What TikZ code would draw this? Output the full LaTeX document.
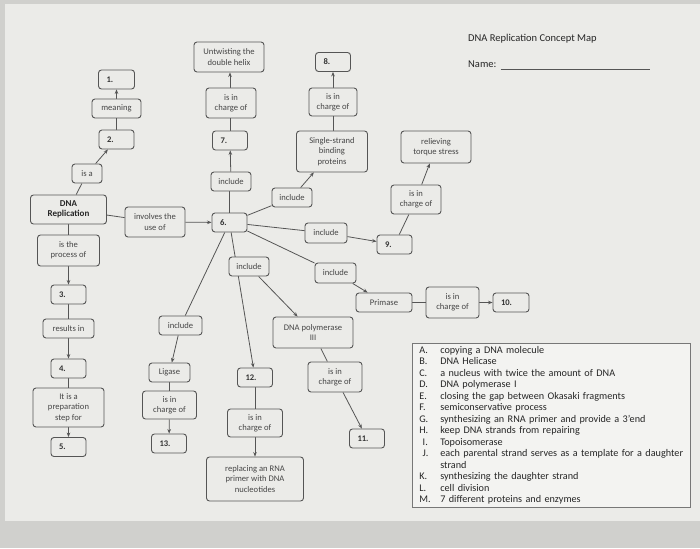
\documentclass[tikz,border=0pt]{standalone}
\usepackage{fontspec}
\setmainfont{Carlito}
\usetikzlibrary{arrows.meta,backgrounds}
\definecolor{pagec}{RGB}{235,235,232}
\definecolor{outc}{RGB}{208,208,205}
\definecolor{boxc}{RGB}{85,85,85}
\definecolor{txtc}{RGB}{70,70,70}
\newcommand{\nfont}{\fontsize{8.6}{10.3}\selectfont}
\newcommand{\lgitem}[2]{\makebox[21pt][l]{#1}#2\\}
\begin{document}
\begin{tikzpicture}[x=1pt,y=-1pt,
  box/.style={draw=boxc, line width=0.9pt, rounded corners=3pt, fill=pagec, text=txtc, font=\nfont, align=center, inner sep=1pt},
  numbox/.style={box, font=\nfont\bfseries, text=black!80, align=left, inner xsep=8pt, text width=#1, minimum height=19pt},
  numbox/.default=19pt,
  ln/.style={draw=boxc, line width=0.8pt},
  arr/.style={ln, -{Stealth[length=4.5pt,width=3.6pt]}},
]
\useasboundingbox (0,0) rectangle (700,548);
% left column
\node[numbox=20pt] (n1) at (116.5,79.5) {1.};
\node[box, minimum width=49pt, minimum height=19pt] (mean) at (116.5,108.5) {meaning};
\node[numbox] (n2) at (116.5,139.5) {2.};
\node[box, minimum width=30pt, minimum height=19pt] (isa) at (87,173.5) {is a};
\node[box, minimum width=76pt, minimum height=29pt, font=\fontsize{9}{10.5}\selectfont\bfseries, text=black!85] (dna) at (68.5,209.5) {DNA\\Replication};
\node[box, minimum width=60pt, minimum height=30pt] (inv) at (155,222) {involves the\\use of};
\node[box, minimum width=62pt, minimum height=31pt] (proc) at (68.5,250.5) {is the\\process of};
\node[numbox] (n3) at (68.5,294.5) {3.};
\node[box, minimum width=51pt, minimum height=19pt] (res) at (68.5,328.5) {results in};
\node[numbox] (n4) at (68.5,368.5) {4.};
\node[box, minimum width=71pt, minimum height=39pt] (prep) at (68.5,407.5) {It is a\\preparation\\step for};
\node[numbox] (n5) at (68.5,447) {5.};
% centre column
\node[box, minimum width=70pt, minimum height=30pt] (untw) at (229,57) {Untwisting the\\double helix};
\node[box, minimum width=50pt, minimum height=30pt] (ic1) at (231,103) {is in\\charge of};
\node[numbox] (n7) at (230,140.5) {7.};
\node[box, minimum width=40pt, minimum height=19pt] (inc7) at (231,181.5) {include};
\node[numbox] (n6) at (229.5,222.5) {6.};
\node[numbox] (n8) at (333,62) {8.};
\node[box, minimum width=48pt, minimum height=28pt] (ic8) at (333,102) {is in\\charge of};
\node[box, minimum width=71pt, minimum height=41pt] (ssb) at (332,151.5) {Single-strand\\binding\\proteins};
\node[box, minimum width=40pt, minimum height=19pt] (incS) at (292,197.5) {include};
\node[box, minimum width=42pt, minimum height=20pt] (inc9) at (326,233) {include};
\node[numbox] (n9) at (394.5,244.5) {9.};
\node[box, minimum width=50pt, minimum height=29pt] (ic9) at (416,199.5) {is in\\charge of};
\node[box, minimum width=70pt, minimum height=32pt] (rel) at (436,147) {relieving\\torque stress};
\node[box, minimum width=41pt, minimum height=20pt] (incP) at (335.5,273) {include};
\node[box, minimum width=56pt, minimum height=19pt] (prim) at (384,302.5) {Primase};
\node[box, minimum width=53pt, minimum height=31pt] (icP) at (452.5,302.5) {is in\\charge of};
\node[numbox=20pt] (n10) at (511,302.5) {10.};
\node[box, minimum width=40pt, minimum height=19pt] (inc12) at (249,266.5) {include};
% lower centre
\node[box, minimum width=43pt, minimum height=19pt] (incL) at (180.5,325.5) {include};
\node[box, minimum width=41pt, minimum height=19pt] (lig) at (169.5,372.5) {Ligase};
\node[box, minimum width=54pt, minimum height=28pt] (icL) at (169.5,405) {is in\\charge of};
\node[numbox] (n13) at (169,443.5) {13.};
\node[numbox] (n12) at (255,377.5) {12.};
\node[box, minimum width=55pt, minimum height=28pt] (ic12) at (255,423) {is in\\charge of};
\node[box, minimum width=97pt, minimum height=44pt] (repl) at (255,479) {replacing an RNA\\primer with DNA\\nucleotides};
\node[box, minimum width=80pt, minimum height=31pt] (pol) at (313,332.5) {DNA polymerase\\III};
\node[box, minimum width=54pt, minimum height=30pt] (icPol) at (335,377) {is in\\charge of};
\node[numbox] (n11) at (367,438.5) {11.};
% title
\node[anchor=west, inner sep=0pt, font=\fontsize{10.5}{12}\selectfont, text=black!85] (title) at (468,39) {DNA Replication Concept Map};
\node[anchor=west, inner sep=0pt, font=\fontsize{10.5}{12}\selectfont, text=black!85] (name) at (468,64) {Name:};
\coordinate (nameend) at (650,69);
\draw[boxc, line width=0.7pt] (name.east |- nameend) ++(4,0) -- (nameend);
% legend
\node[draw=boxc!80, line width=0.6pt, fill=pagec!60!white, anchor=north west, inner xsep=7pt, inner ysep=3pt, text width=264pt, align=left, text=black!85, font=\fontsize{10.2}{11.5}\selectfont] (legend) at (412,343) {%
\lgitem{A.}{copying a DNA molecule}
\lgitem{B.}{DNA Helicase}
\lgitem{C.}{a nucleus with twice the amount of DNA}
\lgitem{D.}{DNA polymerase I}
\lgitem{E.}{closing the gap between Okasaki fragments}
\lgitem{F.}{semiconservative process}
\lgitem{G.}{synthesizing an RNA primer and provide a 3'end}
\lgitem{H.}{keep DNA strands from repairing}
\lgitem{\ I.}{Topoisomerase}
\lgitem{\ J.}{each parental strand serves as a template for a daughter}
\lgitem{}{strand}
\lgitem{K.}{synthesizing the daughter strand}
\lgitem{L.}{cell division}
\makebox[21pt][l]{M.}7 different proteins and enzymes};
\begin{pgfonlayer}{background}
\fill[outc] (0,0) rectangle (700,548);
\fill[pagec] (5,4) rectangle (700,521);
% left column
\draw[arr] (mean) -- (n1);
\draw[ln] (n2) -- (mean);
\draw[arr] (isa) -- (n2);
\draw[ln] (dna) -- (isa);
\draw[ln] (dna) -- (proc);
\draw[arr] (proc) -- (n3);
\draw[ln] (n3) -- (res);
\draw[arr] (res) -- (n4);
\draw[ln] (n4) -- (prep);
\draw[arr] (prep) -- (n5);
\draw[ln] (dna) -- (inv);
\draw[arr] (inv) -- (n6);
% centre
\draw[ln] (n6) -- (n6 |- inc7.south);
\draw[arr] (inc7) -- (n7);
\draw[ln] (n7) -- (n7 |- ic1.south);
\draw[arr] (ic1.north -| n7) -- (untw.south -| n7);
\draw[ln] (ssb.north -| ic8) -- (ic8);
\draw[arr] (ic8) -- (n8);
\draw[ln] (n6) -- (incS);
\draw[arr] (incS) -- (ssb);
\draw[ln] (n6) -- (inc9);
\draw[arr] (inc9) -- (n9);
\draw[ln] (n9) -- (ic9);
\draw[arr] (ic9) -- (rel);
\draw[ln] (n6) -- (incP);
\draw[arr] (incP) -- (prim);
\draw[ln] (prim) -- (icP);
\draw[arr] (icP) -- (n10);
\draw[arr] (n6) -- (n12);
\draw[arr] (inc12) -- (pol);
\draw[ln] (pol) -- (icPol);
\draw[arr] (icPol) -- (n11);
\draw[ln] (n6) -- (incL);
\draw[arr] (incL) -- (lig);
\draw[ln] (lig) -- (icL);
\draw[arr] (icL) -- (n13);
\draw[ln] (n12) -- (ic12);
\draw[arr] (ic12) -- (repl);
\end{pgfonlayer}
\end{tikzpicture}
\end{document}
